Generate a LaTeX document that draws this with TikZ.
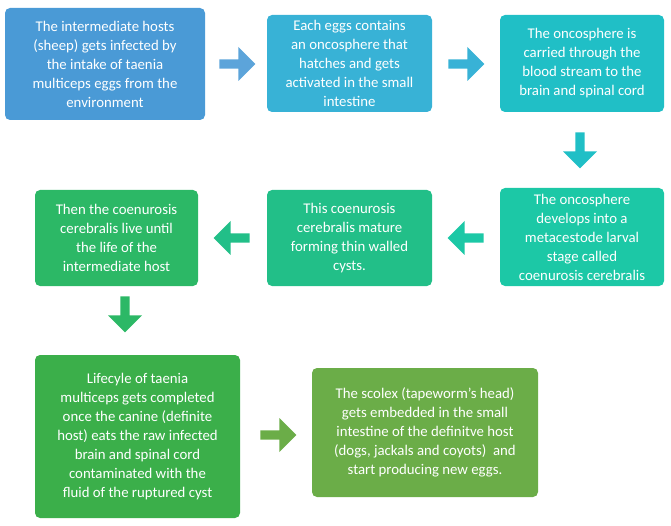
\documentclass[tikz,border=0pt]{standalone}
\usepackage{fontspec}
\setmainfont{Carlito}
\usetikzlibrary{shapes.arrows}
\definecolor{c1}{HTML}{4A9AD6}
\definecolor{c2}{HTML}{38B2D6}
\definecolor{c3}{HTML}{20BFC6}
\definecolor{c4}{HTML}{1CC8A6}
\definecolor{c5}{HTML}{22BF88}
\definecolor{c6}{HTML}{2CB866}
\definecolor{c7}{HTML}{3BAF4A}
\definecolor{c8}{HTML}{6BAD48}
\begin{document}
\begin{tikzpicture}[x=1pt,y=-1pt,
 box/.style={text=white,align=center,font=\fontsize{14.8}{19}\selectfont,inner sep=2pt},
 arr/.style={single arrow,draw=none,minimum height=36pt,minimum width=34pt,single arrow head extend=6pt,inner sep=2pt}]
\useasboundingbox (0,0) rectangle (671,526);
\newcommand\bx[7]{\fill[#6,rounded corners=5pt] (#2,#3) rectangle (#4,#5); \node[box] (#1) at ({(#2+#4)/2},{(#3+#5)/2}) {#7};}
\bx{b1}{5}{8}{205}{120}{c1}{The intermediate hosts\\(sheep) gets infected by\\the intake of taenia\\multiceps eggs from the\\environment}
\bx{b2}{267}{15}{432}{112}{c2}{Each eggs contains\\an oncosphere that\\hatches and gets\\activated in the small\\intestine}
\bx{b3}{500}{15}{664}{112}{c3}{The oncosphere is\\carried through the\\blood stream to the\\brain and spinal cord}
\bx{b4}{500}{188}{664}{286}{c4}{The oncosphere\\develops into a\\metacestode larval\\stage called\\coenurosis cerebralis}
\bx{b5}{267}{190}{432}{286}{c5}{This coenurosis\\cerebralis mature\\forming thin walled\\cysts.}
\bx{b6}{35}{190}{198}{286}{c6}{Then the coenurosis\\cerebralis live until\\the life of the\\intermediate host}
\bx{b7}{35}{355}{240}{518}{c7}{Lifecyle of taenia\\multiceps gets completed\\once the canine (definite\\host) eats the raw infected\\brain and spinal cord\\contaminated with the\\fluid of the ruptured cyst}
\bx{b8}{312}{368}{538}{497}{c8}{The scolex (tapeworm's head)\\gets embedded in the small\\intestine of the definitve host\\(dogs, jackals and coyots)\ \ and\\start producing new eggs.}
\node[arr,fill=c1!90] (a1) at (235,64) {};
\node[arr,fill=c2] (a2) at (464,64) {};
\node[arr,fill=c3,shape border rotate=270] (a3) at (580,148) {};
\node[arr,fill=c4,shape border rotate=180] (a4) at (468,238) {};
\node[arr,fill=c5,shape border rotate=180] (a5) at (234,238) {};
\node[arr,fill=c6,shape border rotate=270] (a6) at (125,312) {};
\node[arr,fill=c8] (a7) at (276,435) {};
\end{tikzpicture}
\end{document}
